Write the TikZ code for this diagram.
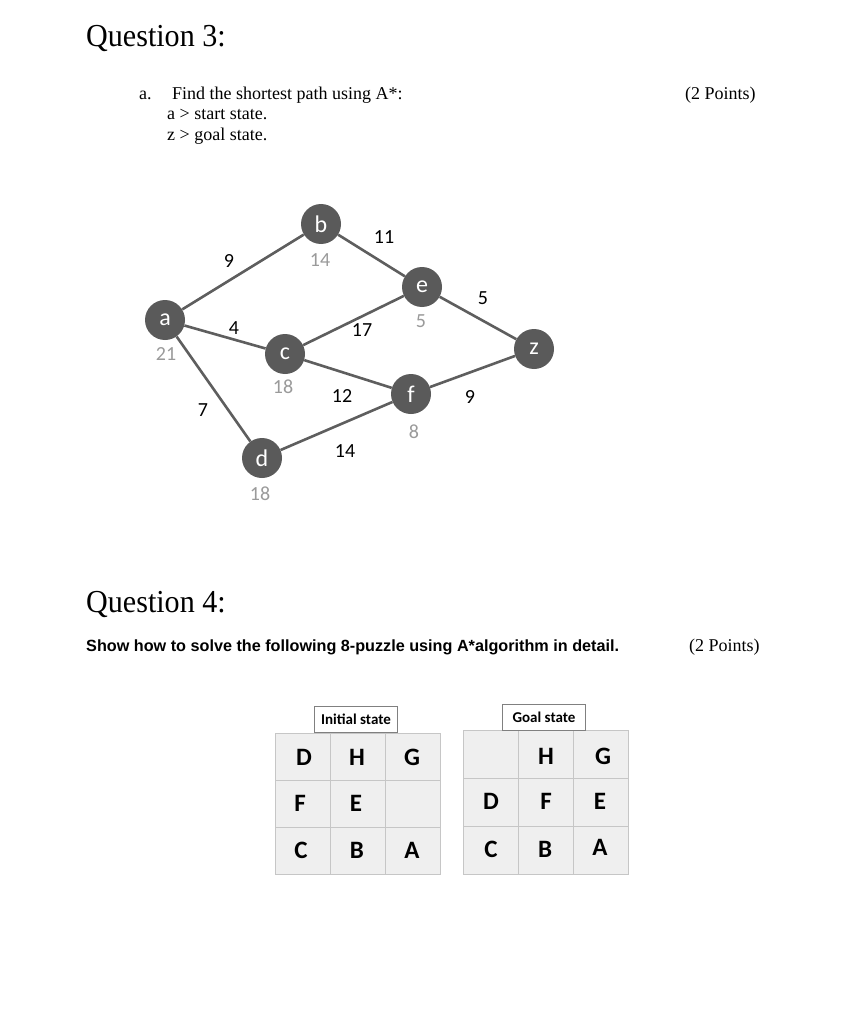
\documentclass[tikz,border=0pt]{standalone}
\usepackage{fontspec}
\setmainfont{Liberation Serif}
\newfontfamily\calfont{Carlito}
\newfontfamily\arifont{Liberation Sans}
\definecolor{nodegray}{HTML}{5A5A5A}
\definecolor{edgegray}{HTML}{5E5E5E}
\definecolor{hgray}{HTML}{9A9A9A}
\definecolor{cellfill}{HTML}{EFEFEF}
\definecolor{cellline}{HTML}{C6C6C6}
\begin{document}
\begin{tikzpicture}[x=1pt,y=-1pt,
  gnode/.style={circle,fill=nodegray,text=white,minimum size=40pt,inner sep=0pt,font=\calfont\fontsize{24}{24}\selectfont},
  edge/.style={draw=edgegray,line width=2.6pt},
  elab/.style={font=\calfont\fontsize{20}{20}\selectfont,text=black,inner sep=0pt},
  hlab/.style={font=\calfont\fontsize{20}{20}\selectfont,text=hgray,inner sep=0pt},
  txt/.style={anchor=base west,inner sep=0pt,font=\fontsize{18}{18}\selectfont},
  cell/.style={draw=cellline,fill=cellfill,line width=0.8pt},
  clet/.style={font=\calfont\bfseries\fontsize{25}{25}\selectfont,inner sep=0pt},
  lbox/.style={draw=gray,fill=white,line width=0.8pt,inner xsep=6pt,minimum height=26pt,font=\calfont\bfseries\fontsize{15}{15}\selectfont}
]
\useasboundingbox (0,0) rectangle (867,1024);
\fill[white] (0,0) rectangle (867,1024);

% Question 3 text
\node[anchor=base west,inner sep=0pt] (q3) at (86,47) {\scalebox{0.94}[1]{\fontsize{32}{32}\selectfont Question 3:}};
\node[txt] (qa) at (139,100) {a.};
\node[txt] (qat) at (172,100) {Find the shortest path using A*:};
\node[txt] (qap) at (685,100) {(2 Points)};
\node[txt] (qs) at (167,120) {a > start state.};
\node[txt] (qg) at (167,141) {z > goal state.};

% graph
\node[gnode] (a) at (165,320) {a};
\node[gnode] (b) at (321,224) {b};
\node[gnode] (e) at (422,287) {e};
\node[gnode] (z) at (534,349) {z};
\node[gnode] (c) at (285,354) {c};
\node[gnode] (f) at (411,394) {f};
\node[gnode] (d) at (262,458) {d};
\draw[edge] (a) -- (b);
\draw[edge] (b) -- (e);
\draw[edge] (e) -- (z);
\draw[edge] (a) -- (c);
\draw[edge] (c) -- (e);
\draw[edge] (c) -- (f);
\draw[edge] (f) -- (z);
\draw[edge] (a) -- (d);
\draw[edge] (d) -- (f);

\node[elab] (l9a) at (229,261) {9};
\node[elab] (l11) at (384,237) {11};
\node[elab] (l5) at (483,298) {5};
\node[elab] (l4) at (234,328) {4};
\node[elab] (l17) at (362,330) {17};
\node[elab] (l12) at (342,396) {12};
\node[elab] (l9b) at (470,397) {9};
\node[elab] (l7) at (203,410) {7};
\node[elab] (l14) at (345,451) {14};

\node[hlab] (ha) at (166,354) {21};
\node[hlab] (hb) at (320,260) {14};
\node[hlab] (he) at (421,321) {5};
\node[hlab] (hc) at (283,387) {18};
\node[hlab] (hf) at (414,432) {8};
\node[hlab] (hd) at (260,494) {18};

% Question 4
\node[anchor=base west,inner sep=0pt] (q4) at (86,612) {\scalebox{0.94}[1]{\fontsize{32}{32}\selectfont Question 4:}};
\node[anchor=base west,inner sep=0pt] (q4t) at (86,651) {\arifont\bfseries\fontsize{16.2}{16.2}\selectfont Show how to solve the following 8-puzzle using A*algorithm in detail.};
\node[txt] (q4p) at (689,651) {(2 Points)};

% initial grid
\foreach \i/\x in {0/275,1/330,2/385}{
  \foreach \j/\y in {0/733,1/780,2/827}{
    \draw[cell] (\x,\y) rectangle ++(55,47);
  }
}
\node[clet] (i11) at (304,757) {D};
\node[clet] (i12) at (357,757) {H};
\node[clet] (i13) at (412,757) {G};
\node[clet] (i21) at (300,803) {F};
\node[clet] (i22) at (356,803) {E};
\node[clet] (i31) at (301,850) {C};
\node[clet] (i32) at (357,850) {B};
\node[clet] (i33) at (412,850) {A};
\node[lbox,inner xsep=7pt] (ilab) at (356,719) {Initial state};

% goal grid
\foreach \i/\x in {0/463,1/518,2/573}{
  \foreach \j/\y in {0/730,1/778,2/826}{
    \draw[cell] (\x,\y) rectangle ++(55,48);
  }
}
\node[clet] (g12) at (546,756) {H};
\node[clet] (g13) at (603,756) {G};
\node[clet] (g21) at (491,801) {D};
\node[clet] (g22) at (546,801) {F};
\node[clet] (g23) at (600,801) {E};
\node[clet] (g31) at (491,849) {C};
\node[clet] (g32) at (545,849) {B};
\node[clet] (g33) at (600,847) {A};
\node[lbox,inner xsep=10pt] (glab) at (544,717) {Goal state};
\end{tikzpicture}
\end{document}
